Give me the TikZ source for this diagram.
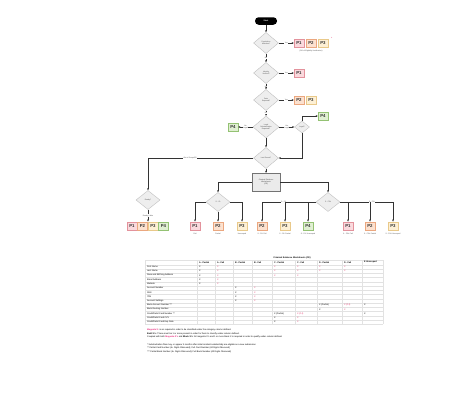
\documentclass[tikz,border=0pt]{standalone}
\usepackage{fontspec}
\setmainfont{Liberation Sans}
\usetikzlibrary{shapes.geometric,arrows.meta}
\definecolor{ponef}{HTML}{FAD9DD}\definecolor{poneb}{HTML}{E3929C}
\definecolor{ptwof}{HTML}{FCE1CF}\definecolor{ptwob}{HTML}{EBA77F}
\definecolor{pthreef}{HTML}{FDF0D5}\definecolor{pthreeb}{HTML}{E9C98A}
\definecolor{pfourf}{HTML}{E0EFD2}\definecolor{pfourb}{HTML}{94C273}
\definecolor{diaf}{HTML}{EEEEEE}\definecolor{diab}{HTML}{B5B5B5}
\definecolor{xred}{HTML}{E8457A}
\definecolor{mag}{HTML}{E6287A}
\definecolor{gridc}{HTML}{E2E2E2}
\definecolor{ptext}{HTML}{333333}
\tikzset{
 pb/.style={draw=#1b, fill=#1f, line width=0.3pt, minimum width=10pt, minimum height=8.5pt, inner sep=0pt, text=ptext, font=\fontsize{4.3}{4.5}\selectfont\bfseries},
 dia/.style={diamond, draw=diab, fill=diaf, line width=0.3pt, inner sep=0pt, minimum width=25pt, minimum height=21pt, align=center, text=black!70, font=\fontsize{1.8}{2}\selectfont},
 lbl/.style={font=\fontsize{1.8}{2}\selectfont, fill=white, inner sep=0.3pt, text=black!70, align=center},
 captxt/.style={font=\fontsize{1.8}{2}\selectfont, inner sep=0.3pt, text=black!70, align=center},
 conn/.style={draw=black!80, line width=0.35pt, -{Stealth[length=2.2pt,width=1.8pt]}},
 tcell/.style={font=\fontsize{2.2}{2.4}\selectfont, inner sep=0.3pt, anchor=west},
 thead/.style={font=\fontsize{2.2}{2.4}\selectfont\bfseries, inner sep=0.3pt, anchor=west},
 note/.style={font=\fontsize{2.2}{2.4}\selectfont, inner sep=0pt, anchor=west}
}
\begin{document}
\begin{tikzpicture}[x=1pt,y=-1pt]
\useasboundingbox[fill=white] (0,0) rectangle (474,415);

% ---------- flowchart ----------
\node[fill=black, rounded corners=3.6pt, minimum width=22pt, minimum height=7.5pt, inner sep=0pt, text=white, font=\fontsize{2}{2}\selectfont\bfseries] (start) at (266,21) {Start};

\node[dia] (d1) at (266,43) {Population\\Matches?};
\node[pb=pone] (a1) at (299,43) {P1};
\node[pb=ptwo] (a2) at (311,43) {P2};
\node[pb=pthree] (a3) at (323,43) {P3};
\node[text=xred, font=\fontsize{3}{3}\selectfont, inner sep=0pt] (ast) at (331.8,38.5) {*};
\node[captxt] (acap) at (311,50.8) {(OR of Eligibility Verification)};

\node[dia] (d2) at (266,73) {Identity\\Verified?};
\node[pb=pone] (b1) at (299,73) {P1};

\node[dia] (d3) at (266,100) {Data\\Exposed?};
\node[pb=ptwo] (c2) at (299,100) {P2};
\node[pb=pthree] (c3) at (311,100) {P3};

\node[dia, minimum width=26pt, minimum height=22pt] (d4) at (266,127) {Legal\\Substantiation\\Required?};
\node[pb=pfour] (e4) at (233,127) {P4};
\node[dia, minimum width=15pt, minimum height=12pt] (d4b) at (302,127) {Legal?};
\node[pb=pfour] (f4) at (323,116) {P4};

\node[dia] (d5) at (266,158) {Last Resort?};
\node[draw=black!55, fill=black!8, line width=0.3pt, minimum width=28pt, minimum height=18pt, inner sep=0.5pt, align=center, font=\fontsize{1.8}{2.1}\selectfont, text=black!75] (ce) at (266,182) {Criminal Evidence\\Worksheets\\(CE)};

\node[dia, minimum width=24pt, minimum height=19pt] (d6) at (148,200) {Ready?};
\node[dia, minimum width=24pt, minimum height=19pt] (d7) at (218,202) {S - ID};
\node[dia, minimum width=24pt, minimum height=19pt] (d8) at (328,202) {S - FIN};

% left group
\node[pb=pone] (g1) at (132,226) {P1};
\node[pb=ptwo] (g2) at (142.5,226) {P2};
\node[pb=pthree] (g3) at (153,226) {P3};
\node[pb=pfour] (g4) at (163.5,226) {P4};
\coordinate (g6) at (148,221.6);

% middle group
\node[pb=pone] (q1) at (195,226) {P1};
\node[pb=ptwo] (q2) at (218,226) {P2};
\node[pb=pthree] (q3) at (242,226) {P3};
\node[captxt] (q1l) at (195,234.3) {Fail};
\node[captxt] (q2l) at (218,234.3) {Partial};
\node[captxt] (q3l) at (242,234.3) {Unscoped};

% right group
\node[pb=ptwo] (r1) at (262,226) {P2};
\node[pb=pthree] (r2) at (285,226) {P3};
\node[pb=pfour] (r3) at (308,226) {P4};
\node[pb=pone] (r4) at (348,226) {P1};
\node[pb=ptwo] (r5) at (370,226) {P2};
\node[pb=pthree] (r6) at (393,226) {P3};
\node[captxt] (r1l) at (262,234.3) {S - PII: Fail};
\node[captxt] (r2l) at (285,234.3) {S - PII: Partial};
\node[captxt] (r3l) at (308,234.3) {S - PII: Unscoped};
\node[captxt] (r4l) at (348,234.3) {S - FIN: Fail};
\node[captxt] (r5l) at (370,234.3) {S - FIN: Partial};
\node[captxt] (r6l) at (393,234.3) {S - FIN: Unscoped};

% connectors
\draw[conn] (start) -- (d1);
\draw[conn] (d1) -- node[lbl] {Yes} (a1);
\draw[conn] (d1) -- node[lbl] {No} (d2);
\draw[conn] (d2) -- node[lbl] {Yes} (b1);
\draw[conn] (d2) -- node[lbl] {No} (d3);
\draw[conn] (d3) -- node[lbl] {Yes} (c2);
\draw[conn] (d3) -- node[lbl] {No} (d4);
\draw[conn] (d4) -- node[lbl] {No\\Legal} (e4);
\draw[conn] (d4) -- node[lbl] {Yes\\Legal} (d4b);
\draw[conn] (d4b.north) |- (f4);
\draw[conn] (d4b.south) |- (d5);
\draw[conn] (d4) -- (d5);
\draw[conn] (d5.west) -| node[lbl, pos=0.3] {Out of Scope/PII} (d6);
\draw[conn] (d5) -- (ce);
\draw[conn] (ce.west) -| (d7);
\draw[conn] (ce.east) -| (d8);
\draw[conn] (d6) -- node[lbl] {Ready | Won} (g6);
\draw[conn] (d7.west) -| (q1);
\draw[conn] (d7) -- (q2);
\draw[conn] (d7.east) -| (q3);
\draw[conn] (d8.west) -| node[lbl, pos=0.3] {S - PII} (r1);
\draw[conn] (r2 |- d8) -- (r2);
\draw[conn] (r3 |- d8) -- (r3);
\draw[conn] (d8.east) -| node[lbl, pos=0.3] {S - FIN} (r6);
\draw[conn] (r4 |- d8) -- (r4);
\draw[conn] (r5 |- d8) -- (r5);

% ---------- table ----------
\foreach \x in {145,197,215,233,252,272,295,317,342,362,383}
  \draw[gridc, line width=0.2pt] (\x,260.3) -- (\x,324.1);
\foreach \k in {0,...,14}
  \draw[gridc, line width=0.2pt] (145,{264.6+4.25*\k}) -- (383,{264.6+4.25*\k});
\draw[gridc, line width=0.2pt] (145,260.3) -- (383,260.3);

\node[thead, anchor=center] (ttl) at (292,257.8) {Criminal Evidence Worksheets (CE)};
\node[thead] (h1) at (198.5,262.4) {A - Partial};
\node[thead] (h2) at (216.5,262.4) {A - Fail};
\node[thead] (h3) at (234.5,262.4) {B - Partial};
\node[thead] (h4) at (253.5,262.4) {B - Fail};
\node[thead] (h5) at (273.5,262.4) {C - Partial};
\node[thead] (h6) at (296.5,262.4) {C - Fail};
\node[thead] (h7) at (318.5,262.4) {D - Partial};
\node[thead] (h8) at (343.5,262.4) {D - Fail};
\node[thead] (h9) at (363.5,262.4) {E Unscoped};

\foreach \t [count=\i] in {First Name, Last Name, Race and Birthing Address, Email Address, Website, Account Number, SSN, ITIN, Account Settings, Bank Account Number ***, Bank Routing Number, Credit/Debit Card Number **, Credit/Debit Card CVV, Credit/Debit Card Exp Date}
  \node[tcell] (rl\i) at (146.5,{266.8+4.25*(\i-1)}) {\t};

\foreach \r/\x/\c/\t [count=\n] in {
 1/198.5/black/X, 1/216.5/xred/X, 1/273.5/xred/X, 1/296.5/xred/X, 1/318.5/xred/X, 1/343.5/xred/X,
 2/198.5/black/X, 2/216.5/xred/X, 2/273.5/xred/X, 2/296.5/xred/X, 2/318.5/xred/X, 2/343.5/xred/X,
 3/198.5/black/X, 3/216.5/xred/X, 3/273.5/xred/X, 3/296.5/xred/X,
 4/198.5/black/X, 4/216.5/xred/X,
 5/198.5/black/X, 5/216.5/xred/X,
 6/234.5/black/X, 6/253.5/xred/X,
 7/234.5/black/X, 7/253.5/xred/X,
 8/234.5/black/X, 8/253.5/xred/X,
 9/234.5/black/X, 9/253.5/xred/X,
 10/318.5/black/X (Partial), 10/343.5/xred/X (if 4), 10/363.5/black/X,
 11/318.5/black/X, 11/343.5/xred/X,
 12/273.5/black/X (Partial), 12/296.5/xred/X (if 4), 12/363.5/black/X,
 13/273.5/black/X, 13/296.5/xred/X,
 14/273.5/black/X, 14/296.5/xred/X}
  \node[tcell, text=\c] (xm\n) at (\x,{266.8+4.25*(\r-1)}) {\t};

% ---------- notes ----------
\node[note] (n1) at (147,330) {{\color{mag}\bfseries Magenta X:} is an required in order to be classified under the category column defined.};
\node[note] (n2) at (147,333.5) {{\bfseries Bold X's:} These must be 1 or more present in order for them to classify under column defined.};
\node[note] (n3) at (147,337) {Coupled with both {\color{mag}\bfseries Magenta X's} and {\bfseries Black X's}: All magenta X's and 1 or more black X is required in order to qualify under column defined.};
\node[note] (n4) at (147,344.5) {* Substantiation files may, or appear 3 months after initial incident substantially are eligible as a new submission};
\node[note] (n5) at (147,348) {** Partial Card Number (6+ Digits Obscured); Full Card Number (All Digits Obscured)};
\node[note] (n6) at (147,351.5) {*** Partial Bank Number (4+ Digits Obscured); Full Bank Number (All Digits Obscured)};
\end{tikzpicture}
\end{document}
